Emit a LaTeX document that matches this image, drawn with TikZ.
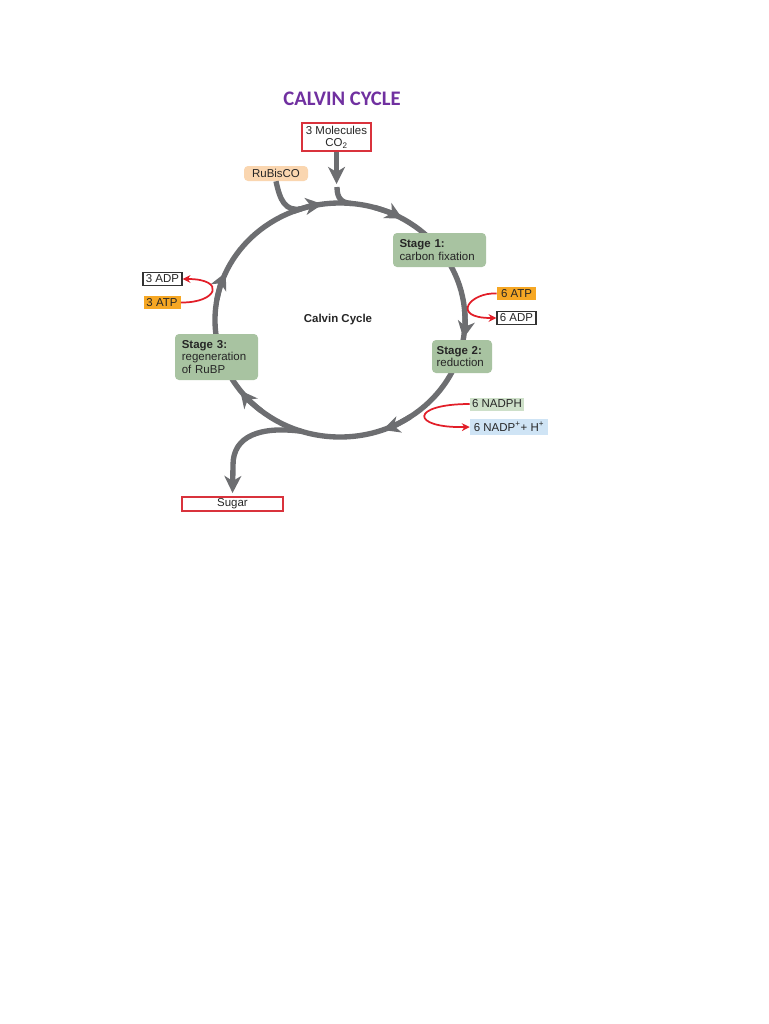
\documentclass[tikz,border=0pt]{standalone}
\usepackage{fontspec}
\setmainfont{Liberation Sans}
\newfontfamily\titlefont{Carlito}
\usepackage{tikz}
\usetikzlibrary{arrows.meta}
\definecolor{cyclegray}{RGB}{109,110,113}
\definecolor{stagegreen}{RGB}{168,195,161}
\definecolor{atporange}{RGB}{246,167,36}
\definecolor{rubiscopeach}{RGB}{250,214,176}
\definecolor{nadphgreen}{RGB}{206,224,201}
\definecolor{nadpblue}{RGB}{207,228,245}
\definecolor{boxred}{RGB}{217,50,60}
\definecolor{arrowred}{RGB}{226,30,40}
\definecolor{titlepurple}{RGB}{112,48,160}
\newcommand{\boxfont}{\fontsize{8.6}{9.2}\selectfont}
\tikzstyle{every node}=[font=\boxfont, inner sep=0pt, text=black!85]
\tikzstyle{cycleline}=[draw=cyclegray, line width=4pt]
\tikzstyle{cyclearrow}=[cycleline, -{Stealth[length=13pt,width=13pt,inset=4pt,line width=0pt]}]
\tikzstyle{redarrow}=[draw=arrowred, line width=1.3pt, -{Stealth[length=6pt,width=6pt,line width=0pt]}]
\tikzstyle{stagebox}=[rectangle, rounded corners=3pt, fill=stagegreen, align=left]
\tikzstyle{tagbox}=[rectangle, minimum height=9.75pt, align=center]

\begin{document}
\begin{tikzpicture}[x=0.75pt, y=-0.75pt]
	\fill[white] (0,0) rectangle (768,1024); % page
	\useasboundingbox (0,0) rectangle (768,1024);
	\node[font={\titlefont\bfseries\fontsize{15.5}{18}\selectfont}, text=titlepurple] (title) at (342,99) {CALVIN CYCLE};
	% the cycle, clockwise
	\coordinate (c) at (340,320);
	\draw[cycleline] (c) ellipse[x radius=125, y radius=117];
	\foreach \b/\a in {248/262, 286/300, 355/369, 56/70, 129/143, 190/204}
		\draw[cyclearrow] (c) ++(\b:125 and 117) arc[start angle=\b, end angle=\a, x radius=125, y radius=117]; % heads along the cycle
	\path (c) ++(252:125 and 117) coordinate (rubjoin);
	\path (c) ++(275.5:125 and 117) coordinate (co2join);
	\path (c) ++(108:125 and 117) coordinate (sugarout);
	\node (cyclelabel) at (338,320) {\textbf{Calvin Cycle}};
	% CO2 in
	\node[tagbox, draw=boxred, line width=1pt, fill=white, minimum width=51.75pt, minimum height=21pt] (co2) at (336.5,137) {3 Molecules\\CO\textsubscript{2}};
	\coordinate (co2in) at (336.5,184);
	\coordinate (co2stub) at (337,187);
	\draw[cyclearrow] (co2.south) -- (co2in);
	\draw[cycleline] (co2stub) .. controls (337,199) and (342,203) .. (co2join);
	% RuBisCO
	\node[tagbox, fill=rubiscopeach, rounded corners=3pt, minimum width=48pt, minimum height=11.25pt] (rubisco) at (276,173.5) {RuBisCO};
	\draw[cycleline] (rubisco.south) .. controls (280,200) and (285,212) .. (rubjoin);
	% stages
	\node[stagebox, minimum width=69.75pt, minimum height=25.5pt, text width=60pt] (stage1) at (439.5,250) {\textbf{Stage 1:}\\carbon fixation};
	\node[stagebox, minimum width=45pt, minimum height=24.75pt, text width=38pt] (stage2) at (462,356.5) {\textbf{Stage 2:}\\reduction};
	\node[stagebox, minimum width=62.25pt, minimum height=34.5pt, text width=52pt] (stage3) at (216.5,357) {\textbf{Stage 3:}\\regeneration\\of RuBP};
	% energy in and out
	\node[tagbox, fill=atporange, minimum width=29.25pt] (atp6) at (516.5,293.5) {6 ATP};
	\node[tagbox, draw=black!80, line width=0.8pt, minimum width=29.25pt] (adp6) at (516.5,318) {6 ADP};
	\draw[redarrow] (atp6.west) .. controls (470,292) and (450,318) .. (adp6.west);
	\node[tagbox, fill=atporange, minimum width=27.75pt] (atp3) at (162,302.5) {3 ATP};
	\node[tagbox, draw=black!80, line width=0.8pt, minimum width=29.25pt] (adp3) at (162.5,279) {3 ADP};
	\draw[redarrow] (atp3.east) .. controls (218,303) and (226,279) .. (adp3.east);
	\node[tagbox, fill=nadphgreen, minimum width=40.5pt] (nadph) at (497,404) {6 NADPH};
	\node[tagbox, fill=nadpblue, minimum width=58.5pt, minimum height=12pt] (nadp) at (509,427) {6 NADP\textsuperscript{+}+ H\textsuperscript{+}};
	\draw[redarrow] (nadph.west) .. controls (410,404) and (410,428) .. (nadp.west);
	% sugar out
	\node[tagbox, draw=boxred, line width=1pt, minimum width=75.75pt, minimum height=10.5pt] (sugar) at (232.5,504) {Sugar};
	\draw[cyclearrow, shorten >=2.5pt] (sugarout) .. controls (260,426) and (233,436) .. (233,465) -- (sugar.north);
\end{tikzpicture}
\end{document}
